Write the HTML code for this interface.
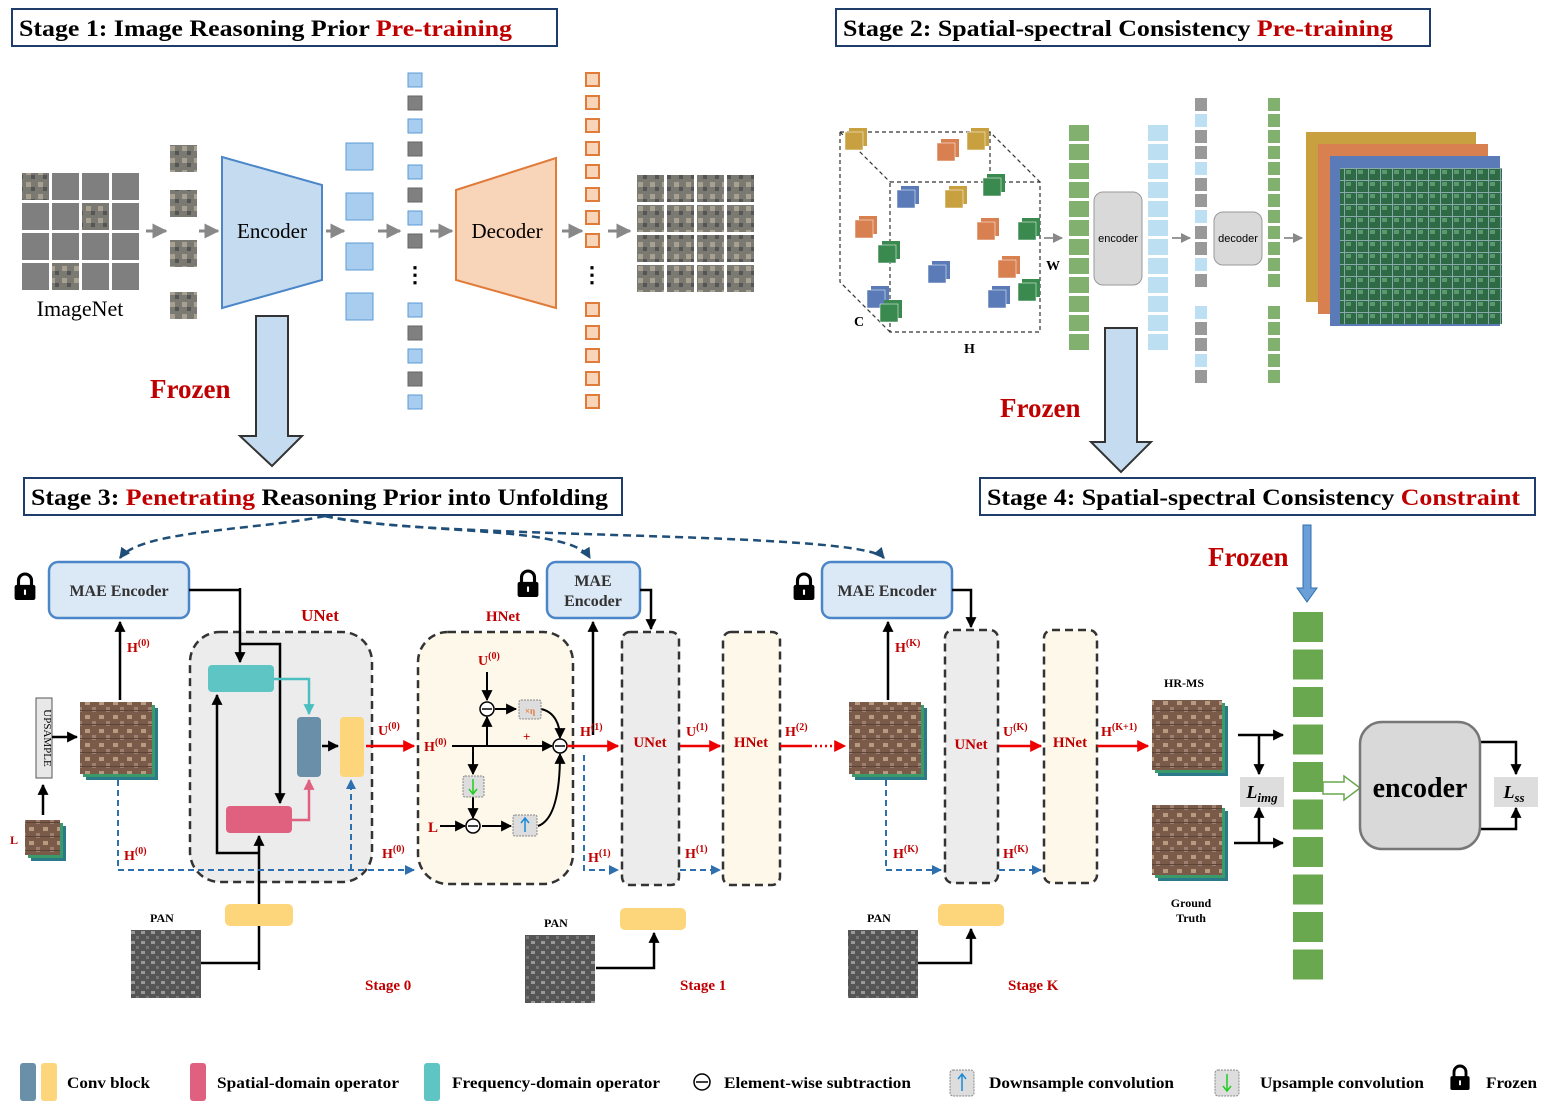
<!DOCTYPE html>
<html><head><meta charset="utf-8"><style>
body{margin:0;background:#fff}
svg{display:block}
text{font-family:"Liberation Serif",serif;font-weight:bold}
.t{font-size:23px}
.r{fill:#c00000}
</style></head><body>
<svg id="s" width="1554" height="1110" viewBox="0 0 1554 1110" xmlns="http://www.w3.org/2000/svg">
<defs>
<marker id="ak" viewBox="0 0 10 10" refX="9" refY="5" markerUnits="userSpaceOnUse" markerWidth="11" markerHeight="11" orient="auto"><path d="M0,0L10,5L0,10z" fill="#000"/></marker>
<marker id="ar" viewBox="0 0 10 10" refX="9" refY="5" markerUnits="userSpaceOnUse" markerWidth="12" markerHeight="12" orient="auto"><path d="M0,0L10,5L0,10z" fill="#e00"/></marker>
<marker id="ab" viewBox="0 0 10 10" refX="9" refY="5" markerUnits="userSpaceOnUse" markerWidth="10" markerHeight="10" orient="auto"><path d="M0,0L10,5L0,10z" fill="#2e6fb0"/></marker>
<marker id="ad" viewBox="0 0 10 10" refX="9" refY="5" markerUnits="userSpaceOnUse" markerWidth="11" markerHeight="11" orient="auto"><path d="M0,0L10,5L0,10z" fill="#1f4e79"/></marker>
<marker id="ag" viewBox="0 0 10 10" refX="9" refY="5" markerWidth="5" markerHeight="5" orient="auto"><path d="M0,0L10,5L0,10z" fill="#888"/></marker>
<marker id="at" viewBox="0 0 10 10" refX="9" refY="5" markerUnits="userSpaceOnUse" markerWidth="11" markerHeight="11" orient="auto"><path d="M0,0L10,5L0,10z" fill="#4bbfc0"/></marker>
<marker id="ap" viewBox="0 0 10 10" refX="9" refY="5" markerUnits="userSpaceOnUse" markerWidth="11" markerHeight="11" orient="auto"><path d="M0,0L10,5L0,10z" fill="#e06080"/></marker>
<pattern id="sat" width="14" height="14" patternUnits="userSpaceOnUse"><rect width="14" height="14" fill="#7a5a48"/><rect x="1" y="1" width="5" height="4" fill="#b89a80"/><rect x="8" y="7" width="4" height="5" fill="#a08070"/><rect x="0" y="10" width="14" height="1" fill="#5c4538"/></pattern>
<pattern id="pan" width="10" height="10" patternUnits="userSpaceOnUse"><rect width="10" height="10" fill="#555"/><rect x="1" y="1" width="4" height="3" fill="#999"/><rect x="6" y="6" width="3" height="3" fill="#777"/></pattern>
<pattern id="gr" width="12" height="12" patternUnits="userSpaceOnUse"><rect width="12" height="12" fill="#2e6a45"/><rect x="2" y="2" width="5" height="4" fill="#5a9a6a"/><rect width="12" height="1" fill="#8aa"/><rect width="1" height="12" fill="#8aa"/></pattern>
<pattern id="rs" width="12" height="12" patternUnits="userSpaceOnUse"><rect width="12" height="12" fill="#7a7a72"/><rect x="2" y="2" width="5" height="5" fill="#a8a090"/><rect x="7" y="7" width="4" height="4" fill="#555"/></pattern>
</defs>

<!-- Titles -->
<rect x="12" y="9" width="545" height="37" fill="#fff" stroke="#1f3d6b" stroke-width="2"/>
<text x="19" y="36" class="t" textLength="493" lengthAdjust="spacingAndGlyphs">Stage 1: Image Reasoning Prior <tspan class="r">Pre-training</tspan></text>
<rect x="836" y="9" width="594" height="37" fill="#fff" stroke="#1f3d6b" stroke-width="2"/>
<text x="843" y="36" class="t" textLength="550" lengthAdjust="spacingAndGlyphs">Stage 2: Spatial-spectral Consistency <tspan class="r">Pre-training</tspan></text>
<rect x="24" y="478" width="598" height="37" fill="#fff" stroke="#1f3d6b" stroke-width="2"/>
<text x="31" y="505" class="t" textLength="577" lengthAdjust="spacingAndGlyphs">Stage 3: <tspan class="r">Penetrating</tspan> Reasoning Prior into Unfolding</text>
<rect x="980" y="478" width="555" height="37" fill="#fff" stroke="#1f3d6b" stroke-width="2"/>
<text x="987" y="505" class="t" textLength="533" lengthAdjust="spacingAndGlyphs">Stage 4: Spatial-spectral Consistency <tspan class="r">Constraint</tspan></text>

<!-- Stage 1 -->
<g id="g1"></g>
<text x="80" y="316" font-size="22" text-anchor="middle" style="font-weight:normal">ImageNet</text>
<polygon points="222,157 322,185 322,280 222,308" fill="#c5dcf0" stroke="#4a86c8" stroke-width="2"/>
<text x="272" y="238" font-size="21" text-anchor="middle" style="font-weight:normal">Encoder</text>
<polygon points="456,190 556,158 556,308 456,280" fill="#f8d4b8" stroke="#e07b39" stroke-width="2"/>
<text x="507" y="238" font-size="21" text-anchor="middle" style="font-weight:normal">Decoder</text>
<g stroke="#888" stroke-width="3" marker-end="url(#ag)">
<line x1="146" y1="231" x2="166" y2="231"/><line x1="199" y1="231" x2="218" y2="231"/>
<line x1="326" y1="231" x2="344" y2="231"/><line x1="378" y1="231" x2="400" y2="231"/>
<line x1="430" y1="231" x2="452" y2="231"/><line x1="562" y1="231" x2="582" y2="231"/>
<line x1="608" y1="231" x2="630" y2="231"/></g>
<text x="415" y="282" font-size="22" text-anchor="middle">⋮</text>
<text x="592" y="282" font-size="22" text-anchor="middle">⋮</text>
<path d="M256,316H288V436H302L272,466L240,436H256Z" fill="#c5dcf0" stroke="#333" stroke-width="2"/>
<text x="150" y="398" font-size="27" class="r">Frozen</text>

<!-- Stage 2 -->
<g fill="none" stroke="#333" stroke-dasharray="4,3" stroke-width="1.2">
<rect x="890" y="182" width="150" height="150"/>
<path d="M840,132H990L1040,182M840,132L890,182M840,132V282L890,332M990,132V182"/>
</g>
<g id="cubes"></g>
<text x="1046" y="270" font-size="14">W</text><text x="854" y="326" font-size="14">C</text><text x="964" y="353" font-size="14">H</text>
<g id="g2"></g>
<rect x="1094" y="192" width="48" height="93" rx="9" fill="#d9d9d9" stroke="#999"/>
<text x="1118" y="242" font-size="11" text-anchor="middle" style="font-family:'Liberation Sans',sans-serif;font-weight:normal">encoder</text>
<rect x="1214" y="212" width="48" height="53" rx="9" fill="#d9d9d9" stroke="#999"/>
<text x="1238" y="242" font-size="11" text-anchor="middle" style="font-family:'Liberation Sans',sans-serif;font-weight:normal">decoder</text>
<g stroke="#999" stroke-width="2" marker-end="url(#ag)">
<line x1="1044" y1="238" x2="1062" y2="238"/><line x1="1172" y1="238" x2="1190" y2="238"/><line x1="1284" y1="238" x2="1302" y2="238"/></g>
<path d="M1105,328H1137V442H1151L1121,472L1091,442H1105Z" fill="#c5dcf0" stroke="#333" stroke-width="2"/>
<text x="1000" y="417" font-size="27" class="r">Frozen</text>

<!-- Stage 3 dashed curves -->
<g fill="none" stroke="#1f4e79" stroke-width="2.5" stroke-dasharray="8,5">
<path d="M325,516C260,530 140,530 120,558" marker-end="url(#ad)"/>
<path d="M325,516C420,535 570,525 590,558" marker-end="url(#ad)"/>
<path d="M325,516C420,540 860,530 884,558" marker-end="url(#ad)"/>
</g>
<g id="mae">
<rect x="49" y="562" width="140" height="56" rx="9" fill="#dbe8f6" stroke="#4a86c8" stroke-width="2.5"/>
<text x="119" y="596" font-size="16" text-anchor="middle" fill="#333">MAE Encoder</text>
<rect x="547" y="562" width="93" height="56" rx="9" fill="#dbe8f6" stroke="#4a86c8" stroke-width="2.5"/>
<text x="593" y="586" font-size="16" text-anchor="middle" fill="#333">MAE</text>
<text x="593" y="606" font-size="16" text-anchor="middle" fill="#333">Encoder</text>
<rect x="822" y="562" width="130" height="56" rx="9" fill="#dbe8f6" stroke="#4a86c8" stroke-width="2.5"/>
<text x="887" y="596" font-size="16" text-anchor="middle" fill="#333">MAE Encoder</text>
</g>
<g id="locks"></g>

<!-- UNet stage0 -->
<rect x="190" y="632" width="182" height="250" rx="30" fill="#ececec" stroke="#333" stroke-width="2.5" stroke-dasharray="8,5"/>
<text x="320" y="621" font-size="17" text-anchor="middle" class="r">UNet</text>
<rect x="418" y="632" width="155" height="252" rx="30" fill="#fdf8ea" stroke="#333" stroke-width="2.5" stroke-dasharray="8,5"/>
<text x="503" y="621" font-size="15" text-anchor="middle" class="r">HNet</text>
<rect x="208" y="665" width="66" height="27" rx="4" fill="#5ec4c4"/>
<rect x="226" y="806" width="66" height="27" rx="4" fill="#e06080"/>
<rect x="297" y="717" width="24" height="60" rx="4" fill="#6a8fa8"/>
<rect x="340" y="717" width="24" height="60" rx="4" fill="#fdd57a"/>
<g stroke="#000" stroke-width="2.5" fill="none">
<path d="M240,588V662" marker-end="url(#ak)"/>
<path d="M240,644H280V803" marker-end="url(#ak)"/>
<path d="M259,970V836" marker-end="url(#ak)"/>
<path d="M259,853H217V695" marker-end="url(#ak)"/>
<path d="M322,746H338" marker-end="url(#ak)"/>
<path d="M189,590H240"/>
</g>
<path d="M274,679H309V714" stroke="#4bbfc0" stroke-width="2.5" fill="none" marker-end="url(#at)"/>
<path d="M292,820H309V780" stroke="#e06080" stroke-width="2.5" fill="none" marker-end="url(#ap)"/>
<!-- HNet internals -->
<g stroke="#000" stroke-width="2" fill="none">
<path d="M452,746H552" marker-end="url(#ak)"/>
<path d="M487,672V700" marker-end="url(#ak)"/>
<path d="M487,746V717" marker-end="url(#ak)"/>
<path d="M495,709H516" marker-end="url(#ak)"/>
<path d="M541,709C555,712 560,725 560,738" marker-end="url(#ak)"/>
<path d="M473,746V774" marker-end="url(#ak)"/>
<path d="M473,797V818" marker-end="url(#ak)"/>
<path d="M440,826H465" marker-end="url(#ak)"/>
<path d="M482,826H511" marker-end="url(#ak)"/>
<path d="M538,826C555,820 560,790 560,754" marker-end="url(#ak)"/>
</g>
<g fill="#fff" stroke="#000" stroke-width="1.5">
<circle cx="487" cy="709" r="7"/><circle cx="560" cy="746" r="7"/><circle cx="473" cy="826" r="7"/></g>
<g stroke="#000" stroke-width="1.5"><line x1="482" y1="709" x2="492" y2="709"/><line x1="555" y1="746" x2="565" y2="746"/><line x1="468" y1="826" x2="478" y2="826"/></g>
<rect x="519" y="700" width="22" height="19" rx="2" fill="#ddd" stroke="#888" stroke-dasharray="2,1"/>
<text x="530" y="714" font-size="9" text-anchor="middle" fill="#e07b39">×η</text>
<rect x="463" y="776" width="21" height="21" rx="2" fill="#ddd" stroke="#888" stroke-dasharray="2,1"/>
<path d="M473,779V793M469,789L473,794L477,789" stroke="#2c2" stroke-width="1.5" fill="none"/>
<rect x="513" y="815" width="24" height="21" rx="2" fill="#ddd" stroke="#888" stroke-dasharray="2,1"/>
<path d="M525,832V819M521,823L525,818L529,823" stroke="#1a8ad8" stroke-width="1.5" fill="none"/>
<text x="478" y="665" font-size="14" class="r">U<tspan font-size="10" dy="-6">(0)</tspan></text>
<text x="424" y="751" font-size="14" class="r">H<tspan font-size="10" dy="-6">(0)</tspan></text>
<text x="523" y="741" font-size="13" class="r">+</text>
<text x="428" y="832" font-size="15" class="r">L</text>

<!-- stage1/K columns -->
<rect x="622" y="632" width="57" height="253" rx="8" fill="#ececec" stroke="#333" stroke-width="2.5" stroke-dasharray="8,5"/>
<rect x="723" y="632" width="57" height="253" rx="8" fill="#fdf8ea" stroke="#333" stroke-width="2.5" stroke-dasharray="8,5"/>
<rect x="945" y="630" width="53" height="253" rx="8" fill="#ececec" stroke="#333" stroke-width="2.5" stroke-dasharray="8,5"/>
<rect x="1044" y="630" width="53" height="253" rx="8" fill="#fdf8ea" stroke="#333" stroke-width="2.5" stroke-dasharray="8,5"/>
<text x="650" y="747" font-size="15" text-anchor="middle" class="r">UNet</text>
<text x="751" y="747" font-size="15" text-anchor="middle" class="r">HNet</text>
<text x="971" y="749" font-size="15" text-anchor="middle" class="r">UNet</text>
<text x="1070" y="747" font-size="15" text-anchor="middle" class="r">HNet</text>

<!-- images -->
<g id="imgs"></g>
<rect x="36" y="698" width="16" height="80" fill="#e8e8e8" stroke="#555"/>
<text x="44" y="738" font-size="11" text-anchor="middle" transform="rotate(90 44 738)" style="font-weight:normal">UPSAMPLE</text>
<g stroke="#000" stroke-width="2.5" fill="none">
<path d="M43,815V785" marker-end="url(#ak)"/>
<path d="M52,737H77" marker-end="url(#ak)"/>
<path d="M120,700V622" marker-end="url(#ak)"/>
<path d="M593,735V622" marker-end="url(#ak)"/>
<path d="M888,700V622" marker-end="url(#ak)"/>
<path d="M640,590H651V629" marker-end="url(#ak)"/>
<path d="M952,590H971V627" marker-end="url(#ak)"/>
<path d="M596,968H654V933" marker-end="url(#ak)"/>
<path d="M201,963H259"/>
<path d="M918,963H971V929" marker-end="url(#ak)"/>
<path d="M1238,735H1283" marker-end="url(#ak)"/>
<path d="M1234,843H1283" marker-end="url(#ak)"/>
<path d="M1259,735V774" marker-end="url(#ak)"/>
<path d="M1259,843V808" marker-end="url(#ak)"/>
<path d="M1481,742H1516V774" marker-end="url(#ak)"/>
<path d="M1481,829H1516V808" marker-end="url(#ak)"/>
</g>
<rect x="225" y="904" width="68" height="22" rx="5" fill="#fdd57a"/>
<rect x="620" y="908" width="66" height="22" rx="5" fill="#fdd57a"/>
<rect x="938" y="904" width="66" height="22" rx="5" fill="#fdd57a"/>
<g stroke="#e00" stroke-width="2.5" fill="none">
<path d="M366,746H414" marker-end="url(#ar)"/>
<path d="M567,746H618" marker-end="url(#ar)"/>
<path d="M680,746H720" marker-end="url(#ar)"/>
<path d="M780,746H810"/><path d="M810,746H845" stroke-dasharray="2,3" marker-end="url(#ar)"/>
<path d="M999,746H1041" marker-end="url(#ar)"/>
<path d="M1097,746H1148" marker-end="url(#ar)"/>
</g>
<g stroke="#2e6fb0" stroke-width="2" stroke-dasharray="6,4" fill="none">
<path d="M118,780V870H414" marker-end="url(#ab)"/>
<path d="M351,870V780" marker-end="url(#ab)"/>
<path d="M584,755V870H618" marker-end="url(#ab)"/>
<path d="M680,870H720" marker-end="url(#ab)"/>
<path d="M886,780V870H941" marker-end="url(#ab)"/>
<path d="M999,870H1041" marker-end="url(#ab)"/>
</g>
<g font-size="14" class="r">
<text x="127" y="652" class="r">H<tspan font-size="10" dy="-6">(0)</tspan></text>
<text x="378" y="735" class="r">U<tspan font-size="10" dy="-6">(0)</tspan></text>
<text x="580" y="736" class="r">H<tspan font-size="10" dy="-6">(1)</tspan></text>
<text x="686" y="736" class="r">U<tspan font-size="10" dy="-6">(1)</tspan></text>
<text x="785" y="736" class="r">H<tspan font-size="10" dy="-6">(2)</tspan></text>
<text x="895" y="652" class="r">H<tspan font-size="10" dy="-6">(K)</tspan></text>
<text x="1003" y="736" class="r">U<tspan font-size="10" dy="-6">(K)</tspan></text>
<text x="1101" y="736" class="r">H<tspan font-size="10" dy="-6">(K+1)</tspan></text>
<text x="124" y="860" class="r">H<tspan font-size="10" dy="-6">(0)</tspan></text>
<text x="382" y="858" class="r">H<tspan font-size="10" dy="-6">(0)</tspan></text>
<text x="588" y="862" class="r">H<tspan font-size="10" dy="-6">(1)</tspan></text>
<text x="685" y="858" class="r">H<tspan font-size="10" dy="-6">(1)</tspan></text>
<text x="893" y="858" class="r">H<tspan font-size="10" dy="-6">(K)</tspan></text>
<text x="1003" y="858" class="r">H<tspan font-size="10" dy="-6">(K)</tspan></text>
<text x="10" y="844" font-size="12" class="r">L</text>
</g>
<text x="150" y="922" font-size="12">PAN</text>
<text x="544" y="927" font-size="12">PAN</text>
<text x="867" y="922" font-size="12">PAN</text>
<text x="365" y="990" font-size="15" class="r">Stage 0</text>
<text x="680" y="990" font-size="15" class="r">Stage 1</text>
<text x="1008" y="990" font-size="15" class="r">Stage K</text>

<!-- Stage 4 -->
<text x="1208" y="566" font-size="27" class="r">Frozen</text>
<path d="M1303,525H1311V588H1317L1307,602L1297,588H1303Z" fill="#6a9fd8" stroke="#2e6fb0"/>
<g id="gc"></g>
<text x="1184" y="687" font-size="12" text-anchor="middle">HR-MS</text>
<text x="1191" y="907" font-size="12" text-anchor="middle">Ground</text>
<text x="1191" y="922" font-size="12" text-anchor="middle">Truth</text>
<rect x="1240" y="777" width="44" height="30" fill="#ddd"/>
<text x="1262" y="798" font-size="18" text-anchor="middle" font-style="italic">L<tspan font-size="13" dy="4">img</tspan></text>
<rect x="1494" y="777" width="44" height="30" fill="#ddd"/>
<text x="1514" y="798" font-size="18" text-anchor="middle" font-style="italic">L<tspan font-size="13" dy="4">ss</tspan></text>
<path d="M1323,782H1344V776L1360,788L1344,800V794H1323Z" fill="#fff" stroke="#6aa84f" stroke-width="1.5"/>
<rect x="1360" y="722" width="120" height="127" rx="22" fill="#d9d9d9" stroke="#777" stroke-width="2.5"/>
<text x="1420" y="797" font-size="28" text-anchor="middle">encoder</text>

<!-- Legend -->
<rect x="20" y="1063" width="16" height="38" rx="3" fill="#6a8fa8"/><rect x="41" y="1063" width="16" height="38" rx="3" fill="#fdd57a"/>
<text x="67" y="1088" font-size="16" textLength="83" lengthAdjust="spacingAndGlyphs">Conv block</text>
<rect x="190" y="1063" width="16" height="38" rx="3" fill="#e06080"/>
<text x="217" y="1088" font-size="16" textLength="182" lengthAdjust="spacingAndGlyphs">Spatial-domain operator</text>
<rect x="424" y="1063" width="16" height="38" rx="3" fill="#5ec4c4"/>
<text x="452" y="1088" font-size="16" textLength="208" lengthAdjust="spacingAndGlyphs">Frequency-domain operator</text>
<circle cx="702" cy="1082" r="8" fill="#fff" stroke="#000" stroke-width="1.5"/><line x1="696" y1="1082" x2="708" y2="1082" stroke="#000" stroke-width="1.5"/>
<text x="724" y="1088" font-size="16" textLength="187" lengthAdjust="spacingAndGlyphs">Element-wise subtraction</text>
<rect x="950" y="1070" width="24" height="26" rx="3" fill="#ddd" stroke="#888" stroke-dasharray="2,1"/>
<path d="M962,1091V1075M958,1079L962,1074L966,1079" stroke="#1a8ad8" stroke-width="1.5" fill="none"/>
<text x="989" y="1088" font-size="16" textLength="185" lengthAdjust="spacingAndGlyphs">Downsample convolution</text>
<rect x="1215" y="1070" width="24" height="26" rx="3" fill="#ddd" stroke="#888" stroke-dasharray="2,1"/>
<path d="M1227,1074V1090M1223,1086L1227,1091L1231,1086" stroke="#2c2" stroke-width="1.5" fill="none"/>
<text x="1260" y="1088" font-size="16" textLength="164" lengthAdjust="spacingAndGlyphs">Upsample convolution</text>
<text x="1486" y="1088" font-size="16" textLength="51" lengthAdjust="spacingAndGlyphs">Frozen</text>
</svg>
<script>
var S="http://www.w3.org/2000/svg";
function R(p,x,y,w,h,f,st){var r=document.createElementNS(S,"rect");r.setAttribute("x",x);r.setAttribute("y",y);r.setAttribute("width",w);r.setAttribute("height",h);r.setAttribute("fill",f);if(st)r.setAttribute("stroke",st);document.getElementById(p).appendChild(r);return r;}
for(var i=0;i<4;i++)for(var j=0;j<4;j++){var im=(i+j*3)%5==0;R("g1",22+i*30,173+j*30,27,27,im?"url(#rs)":"#7f7f7f");R("g1",637+i*30,175+j*30,27,27,"url(#rs)");}
[145,190,240,292].forEach(function(y){R("g1",170,y,27,27,"url(#rs)");});
[143,193,243,293].forEach(function(y){R("g1",346,y,27,27,"#a9cdee","#5b9bd5");});
for(var k=0;k<15;k++){var y=73+k*23; if(y>255&&y<290)continue; R("g1",408,y,14,14,k%2?"#808080":"#a9cdee",k%2?"#666":"#5b9bd5");R("g1",586,y,13,13,"#f8d4b8","#e07b39").setAttribute("stroke-width","2");}
var cc=[[845,132,"#c8a040"],[937,143,"#d88050"],[967,132,"#c8a040"],[897,190,"#5a7ab8"],[945,190,"#c8a040"],[983,178,"#3a8a50"],[977,222,"#d88050"],[1018,222,"#3a8a50"],[855,220,"#d88050"],[878,245,"#3a8a50"],[928,265,"#5a7ab8"],[998,260,"#d88050"],[1018,283,"#3a8a50"],[988,290,"#5a7ab8"],[867,290,"#5a7ab8"],[880,304,"#3a8a50"]];
cc.forEach(function(c){R("cubes",c[0]+4,c[1]-4,18,18,c[2]);R("cubes",c[0],c[1],18,18,c[2],"#fff").setAttribute("stroke-width","0.5");});
for(var k=0;k<12;k++){R("g2",1069,125+k*19,20,16,"#82b06e");R("g2",1148,125+k*19,20,16,"#bcdff2");}
for(var k=0;k<18;k++){var y=98+k*16; if(y>282&&y<300)continue; R("g2",1195,y,12,13,k%3==1?"#bcdff2":"#999");R("g2",1268,y,12,13,"#82b06e");}
var cols=["#c8a040","#d88050","#5a7ab8"];for(var k=0;k<3;k++){R("g2",1306+k*12,132+k*12,170,170,cols[k]);}
R("g2",1340,168,162,156,"url(#gr)");
function stack(x,y,w){R("imgs",x+6,y+6,w,w,"#2a7a8a");R("imgs",x+3,y+3,w,w,"#3a9a6a");R("imgs",x,y,w,w,"url(#sat)");}
stack(80,702,72);stack(849,702,72);stack(1152,700,70);stack(1152,805,70);stack(25,820,35);
R("imgs",131,930,70,68,"url(#pan)");R("imgs",525,935,70,68,"url(#pan)");R("imgs",848,930,70,68,"url(#pan)");
for(var k=0;k<10;k++)R("gc",1293,612+k*37.5,30,30,"#6aa84f");
function lock(x,y,s){var g=document.getElementById("locks");var p=document.createElementNS(S,"path");
p.setAttribute("d","M"+(x+s*0.25)+","+(y+s*0.45)+"V"+(y+s*0.25)+"A"+(s*0.25)+","+(s*0.25)+" 0 0 1 "+(x+s*0.75)+","+(y+s*0.25)+"V"+(y+s*0.45));
p.setAttribute("stroke","#000");p.setAttribute("stroke-width",s*0.12);p.setAttribute("fill","none");g.appendChild(p);
var r=R("locks",x+s*0.1,y+s*0.42,s*0.8,s*0.58,"#000");r.setAttribute("rx",s*0.08);R("locks",x+s*0.46,y+s*0.6,s*0.08,s*0.2,"#fff");}
lock(12,574,26);lock(515,571,26);lock(791,574,26);lock(1404,733,28);lock(1448,1066,24);
</script>
</body></html>
